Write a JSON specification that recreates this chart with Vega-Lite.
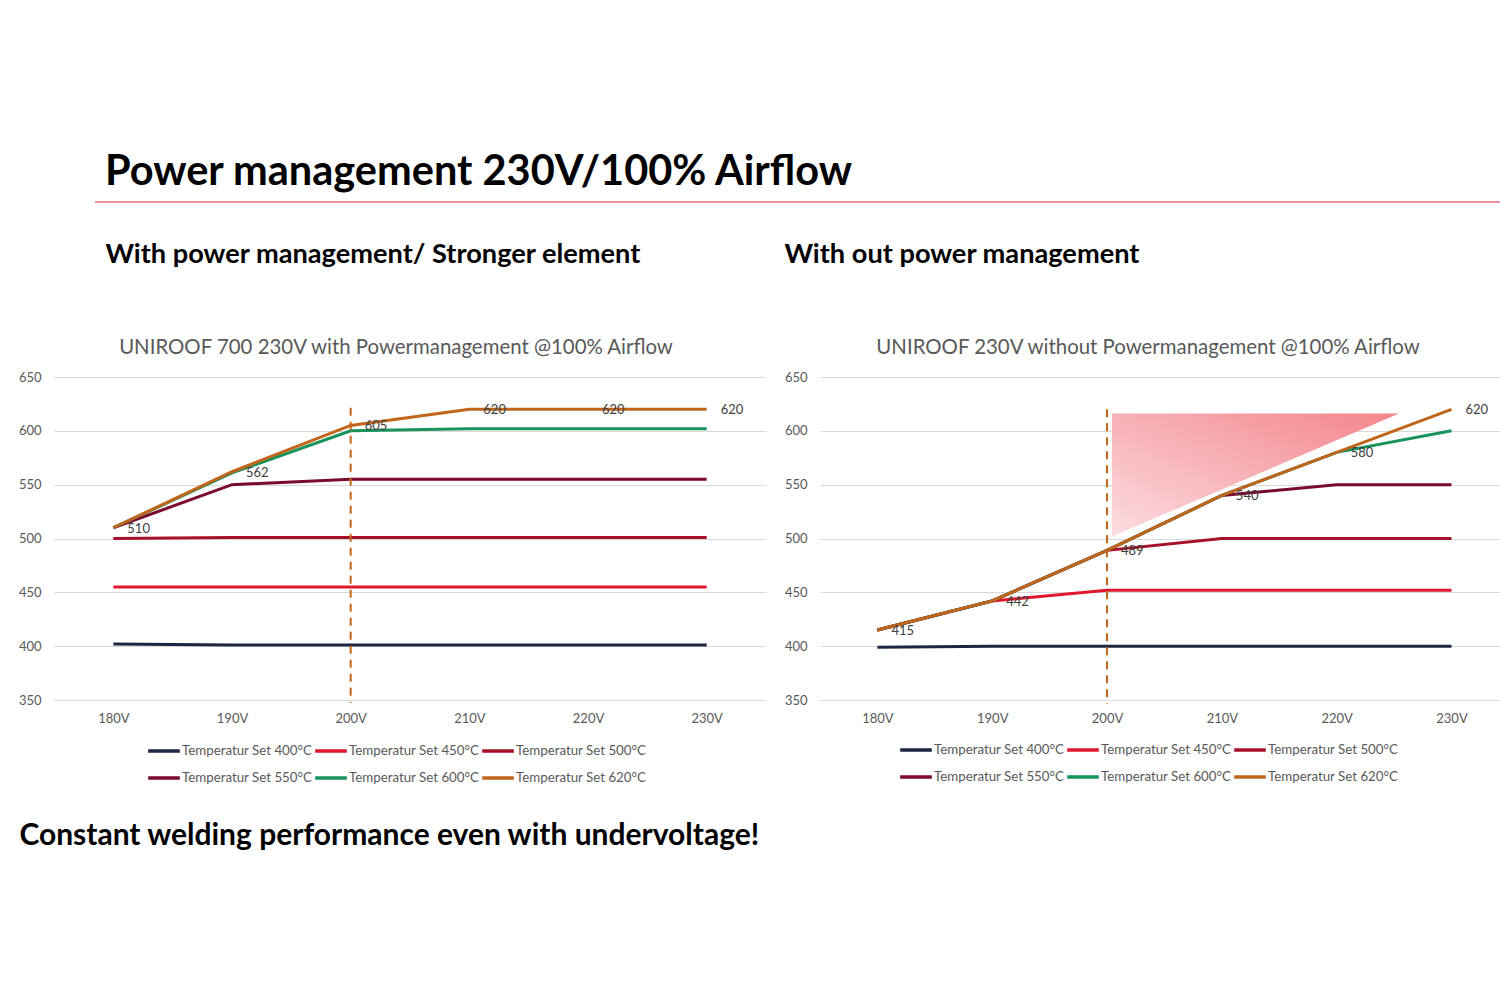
{
  "$schema": "https://vega.github.io/schema/vega-lite/v6.json",
  "background": "white",
  "padding": {"left": 18, "top": 151, "right": 0, "bottom": 0},
  "config": {
    "font": "Lato",
    "view": {"stroke": null},
    "axis": {"labelFont": "Lato", "labelFontSize": 13, "labelColor": "#595959", "ticks": false, "domain": false, "gridColor": "#d9d9d9", "gridWidth": 1, "title": null},
    "legend": {"labelFont": "Lato"}
  },
  "datasets": {
    "left": [
      {"v": 180, "s": "Temperatur Set 400°C", "t": 402}, {"v": 190, "s": "Temperatur Set 400°C", "t": 401}, {"v": 200, "s": "Temperatur Set 400°C", "t": 401}, {"v": 210, "s": "Temperatur Set 400°C", "t": 401}, {"v": 220, "s": "Temperatur Set 400°C", "t": 401}, {"v": 230, "s": "Temperatur Set 400°C", "t": 401},
      {"v": 180, "s": "Temperatur Set 450°C", "t": 455}, {"v": 190, "s": "Temperatur Set 450°C", "t": 455}, {"v": 200, "s": "Temperatur Set 450°C", "t": 455}, {"v": 210, "s": "Temperatur Set 450°C", "t": 455}, {"v": 220, "s": "Temperatur Set 450°C", "t": 455}, {"v": 230, "s": "Temperatur Set 450°C", "t": 455},
      {"v": 180, "s": "Temperatur Set 500°C", "t": 500}, {"v": 190, "s": "Temperatur Set 500°C", "t": 501}, {"v": 200, "s": "Temperatur Set 500°C", "t": 501}, {"v": 210, "s": "Temperatur Set 500°C", "t": 501}, {"v": 220, "s": "Temperatur Set 500°C", "t": 501}, {"v": 230, "s": "Temperatur Set 500°C", "t": 501},
      {"v": 180, "s": "Temperatur Set 550°C", "t": 510}, {"v": 190, "s": "Temperatur Set 550°C", "t": 550}, {"v": 200, "s": "Temperatur Set 550°C", "t": 555}, {"v": 210, "s": "Temperatur Set 550°C", "t": 555}, {"v": 220, "s": "Temperatur Set 550°C", "t": 555}, {"v": 230, "s": "Temperatur Set 550°C", "t": 555},
      {"v": 180, "s": "Temperatur Set 600°C", "t": 510}, {"v": 190, "s": "Temperatur Set 600°C", "t": 561}, {"v": 200, "s": "Temperatur Set 600°C", "t": 600}, {"v": 210, "s": "Temperatur Set 600°C", "t": 602}, {"v": 220, "s": "Temperatur Set 600°C", "t": 602}, {"v": 230, "s": "Temperatur Set 600°C", "t": 602},
      {"v": 180, "s": "Temperatur Set 620°C", "t": 510}, {"v": 190, "s": "Temperatur Set 620°C", "t": 562}, {"v": 200, "s": "Temperatur Set 620°C", "t": 605}, {"v": 210, "s": "Temperatur Set 620°C", "t": 620}, {"v": 220, "s": "Temperatur Set 620°C", "t": 620}, {"v": 230, "s": "Temperatur Set 620°C", "t": 620}
    ],
    "right": [
      {"v": 180, "s": "Temperatur Set 400°C", "t": 399}, {"v": 190, "s": "Temperatur Set 400°C", "t": 400}, {"v": 200, "s": "Temperatur Set 400°C", "t": 400}, {"v": 210, "s": "Temperatur Set 400°C", "t": 400}, {"v": 220, "s": "Temperatur Set 400°C", "t": 400}, {"v": 230, "s": "Temperatur Set 400°C", "t": 400},
      {"v": 180, "s": "Temperatur Set 450°C", "t": 415}, {"v": 190, "s": "Temperatur Set 450°C", "t": 442}, {"v": 200, "s": "Temperatur Set 450°C", "t": 452}, {"v": 210, "s": "Temperatur Set 450°C", "t": 452}, {"v": 220, "s": "Temperatur Set 450°C", "t": 452}, {"v": 230, "s": "Temperatur Set 450°C", "t": 452},
      {"v": 180, "s": "Temperatur Set 500°C", "t": 415}, {"v": 190, "s": "Temperatur Set 500°C", "t": 442}, {"v": 200, "s": "Temperatur Set 500°C", "t": 489}, {"v": 210, "s": "Temperatur Set 500°C", "t": 500}, {"v": 220, "s": "Temperatur Set 500°C", "t": 500}, {"v": 230, "s": "Temperatur Set 500°C", "t": 500},
      {"v": 180, "s": "Temperatur Set 550°C", "t": 415}, {"v": 190, "s": "Temperatur Set 550°C", "t": 442}, {"v": 200, "s": "Temperatur Set 550°C", "t": 489}, {"v": 210, "s": "Temperatur Set 550°C", "t": 540}, {"v": 220, "s": "Temperatur Set 550°C", "t": 550}, {"v": 230, "s": "Temperatur Set 550°C", "t": 550},
      {"v": 180, "s": "Temperatur Set 600°C", "t": 415}, {"v": 190, "s": "Temperatur Set 600°C", "t": 442}, {"v": 200, "s": "Temperatur Set 600°C", "t": 489}, {"v": 210, "s": "Temperatur Set 600°C", "t": 540}, {"v": 220, "s": "Temperatur Set 600°C", "t": 580}, {"v": 230, "s": "Temperatur Set 600°C", "t": 600},
      {"v": 180, "s": "Temperatur Set 620°C", "t": 415}, {"v": 190, "s": "Temperatur Set 620°C", "t": 442}, {"v": 200, "s": "Temperatur Set 620°C", "t": 489}, {"v": 210, "s": "Temperatur Set 620°C", "t": 540}, {"v": 220, "s": "Temperatur Set 620°C", "t": 580}, {"v": 230, "s": "Temperatur Set 620°C", "t": 620}
    ],
    "tri": [
      {"v": 200.43, "top": 616, "bot": 501.8},
      {"v": 225.43, "top": 616, "bot": 616}
    ]
  },
  "spacing": 38,
  "vconcat": [
    {
      "width": 1446,
      "height": 1,
      "data": {"values": [{}]},
      "title": {"text": "Power management 230V/100% Airflow", "anchor": "start", "dx": 51, "font": "Lato", "fontSize": 41.5, "fontWeight": "bold", "color": "#000000", "offset": 8},
      "mark": {"type": "rule", "color": "#e46c7a", "strokeWidth": 1.3},
      "encoding": {
        "x": {"datum": 41, "type": "quantitative", "scale": {"domain": [0, 1446], "nice": false, "zero": false}, "axis": null},
        "x2": {"datum": 1446},
        "y": {"datum": 0, "type": "quantitative", "scale": {"domain": [0, 1]}, "axis": null}
      }
    },
    {
      "spacing": 18,
      "resolve": {"scale": {"x": "independent", "y": "independent", "color": "independent"}, "legend": {"color": "independent"}},
      "title": {"text": "Constant welding performance even with undervoltage!", "orient": "bottom", "anchor": "start", "dx": 1, "font": "Lato", "fontSize": 30, "fontWeight": "bold", "color": "#000000", "offset": 36},
      "hconcat": [
        {
          "title": {"text": "With power management/ Stronger element", "anchor": "start", "dx": 87, "font": "Lato", "fontSize": 27.2, "fontWeight": "bold", "color": "#000000", "offset": 68},
          "vconcat": [
            {
              "width": 712,
              "height": 323,
              "title": {"text": "UNIROOF 700 230V with Powermanagement @100% Airflow", "anchor": "middle", "dx": -14, "font": "Lato", "fontSize": 20.4, "fontWeight": "normal", "color": "#595959", "offset": 13},
              "layer": [
                {
                  "data": {"name": "left"},
                  "mark": {"type": "line", "strokeWidth": 3},
                  "encoding": {
                    "x": {"field": "v", "type": "quantitative", "scale": {"domain": [175, 235], "nice": false, "zero": false}, "axis": {"values": [180, 190, 200, 210, 220, 230], "labelExpr": "datum.value + 'V'", "grid": false, "labelPadding": 12}},
                    "y": {"field": "t", "type": "quantitative", "scale": {"domain": [350, 650], "nice": false, "zero": false}, "axis": {"values": [350, 400, 450, 500, 550, 600, 650], "labelPadding": 13, "grid": true}},
                    "color": {"field": "s", "type": "nominal", "scale": {"domain": ["Temperatur Set 400°C", "Temperatur Set 450°C", "Temperatur Set 500°C", "Temperatur Set 550°C", "Temperatur Set 600°C", "Temperatur Set 620°C"], "range": ["#1c2541", "#e0182d", "#a8102a", "#7a0a2e", "#17935b", "#c0651b"]},
                      "legend": {"orient": "none", "legendX": 92, "legendY": 356, "direction": "horizontal", "columns": 3, "title": null, "symbolType": "stroke", "symbolSize": 1000, "symbolStrokeWidth": 3.5, "labelFontSize": 13.3, "labelColor": "#595959", "labelOffset": 0, "columnPadding": -6, "rowPadding": 2, "labelLimit": 250}}
                  }
                },
                {
                  "data": {"values": [{}]},
                  "mark": {"type": "rule", "color": "#c0651b", "strokeWidth": 2, "strokeDash": [8, 6]},
                  "encoding": {"x": {"datum": 200, "type": "quantitative"}, "y": {"datum": 621.5, "type": "quantitative"}, "y2": {"datum": 347.5}}
                },
                {
                  "data": {"name": "left"},
                  "transform": [{"filter": "datum.s == 'Temperatur Set 620°C'"}],
                  "mark": {"type": "text", "align": "left", "baseline": "middle", "dx": 14, "dy": 1, "fontSize": 13, "color": "#404040", "font": "Lato"},
                  "encoding": {"x": {"field": "v", "type": "quantitative"}, "y": {"field": "t", "type": "quantitative"}, "text": {"field": "t", "type": "quantitative"}}
                }
              ]
            }
          ]
        },
        {
          "title": {"text": "With out power management", "anchor": "start", "dx": 0, "font": "Lato", "fontSize": 27.2, "fontWeight": "bold", "color": "#000000", "offset": 68},
          "vconcat": [
            {
              "width": 682,
              "height": 323,
              "title": {"text": "UNIROOF 230V without Powermanagement @100% Airflow", "anchor": "middle", "dx": -13, "font": "Lato", "fontSize": 20.4, "fontWeight": "normal", "color": "#595959", "offset": 13},
              "layer": [
                {
                  "data": {"name": "tri"},
                  "mark": {"type": "area", "color": {"gradient": "linear", "x1": 0, "y1": 1, "x2": 1, "y2": 0, "stops": [{"offset": 0, "color": "#fbdde0"}, {"offset": 1, "color": "#f3858b"}]}},
                  "encoding": {
                    "x": {"field": "v", "type": "quantitative"},
                    "y": {"field": "bot", "type": "quantitative"},
                    "y2": {"field": "top"}
                  }
                },
                {
                  "data": {"name": "right"},
                  "mark": {"type": "line", "strokeWidth": 3},
                  "encoding": {
                    "x": {"field": "v", "type": "quantitative", "scale": {"domain": [175, 234.4], "nice": false, "zero": false}, "axis": {"values": [180, 190, 200, 210, 220, 230], "labelExpr": "datum.value + 'V'", "grid": false, "labelPadding": 12}},
                    "y": {"field": "t", "type": "quantitative", "scale": {"domain": [350, 650], "nice": false, "zero": false}, "axis": {"values": [350, 400, 450, 500, 550, 600, 650], "labelPadding": 13, "grid": true}},
                    "color": {"field": "s", "type": "nominal", "scale": {"domain": ["Temperatur Set 400°C", "Temperatur Set 450°C", "Temperatur Set 500°C", "Temperatur Set 550°C", "Temperatur Set 600°C", "Temperatur Set 620°C"], "range": ["#1c2541", "#e0182d", "#a8102a", "#7a0a2e", "#17935b", "#c0651b"]},
                      "legend": {"orient": "none", "legendX": 78, "legendY": 355, "direction": "horizontal", "columns": 3, "title": null, "symbolType": "stroke", "symbolSize": 1000, "symbolStrokeWidth": 3.5, "labelFontSize": 13.3, "labelColor": "#595959", "labelOffset": 0, "columnPadding": -6, "rowPadding": 2, "labelLimit": 250}}
                  }
                },
                {
                  "data": {"values": [{}]},
                  "mark": {"type": "rule", "color": "#c0651b", "strokeWidth": 2, "strokeDash": [8, 6]},
                  "encoding": {"x": {"datum": 200, "type": "quantitative"}, "y": {"datum": 620, "type": "quantitative"}, "y2": {"datum": 346.5}}
                },
                {
                  "data": {"name": "right"},
                  "transform": [{"filter": "datum.s == 'Temperatur Set 620°C'"}],
                  "mark": {"type": "text", "align": "left", "baseline": "middle", "dx": 14, "dy": 1, "fontSize": 13, "color": "#404040", "font": "Lato"},
                  "encoding": {"x": {"field": "v", "type": "quantitative"}, "y": {"field": "t", "type": "quantitative"}, "text": {"field": "t", "type": "quantitative"}}
                }
              ]
            }
          ]
        }
      ]
    }
  ]
}
